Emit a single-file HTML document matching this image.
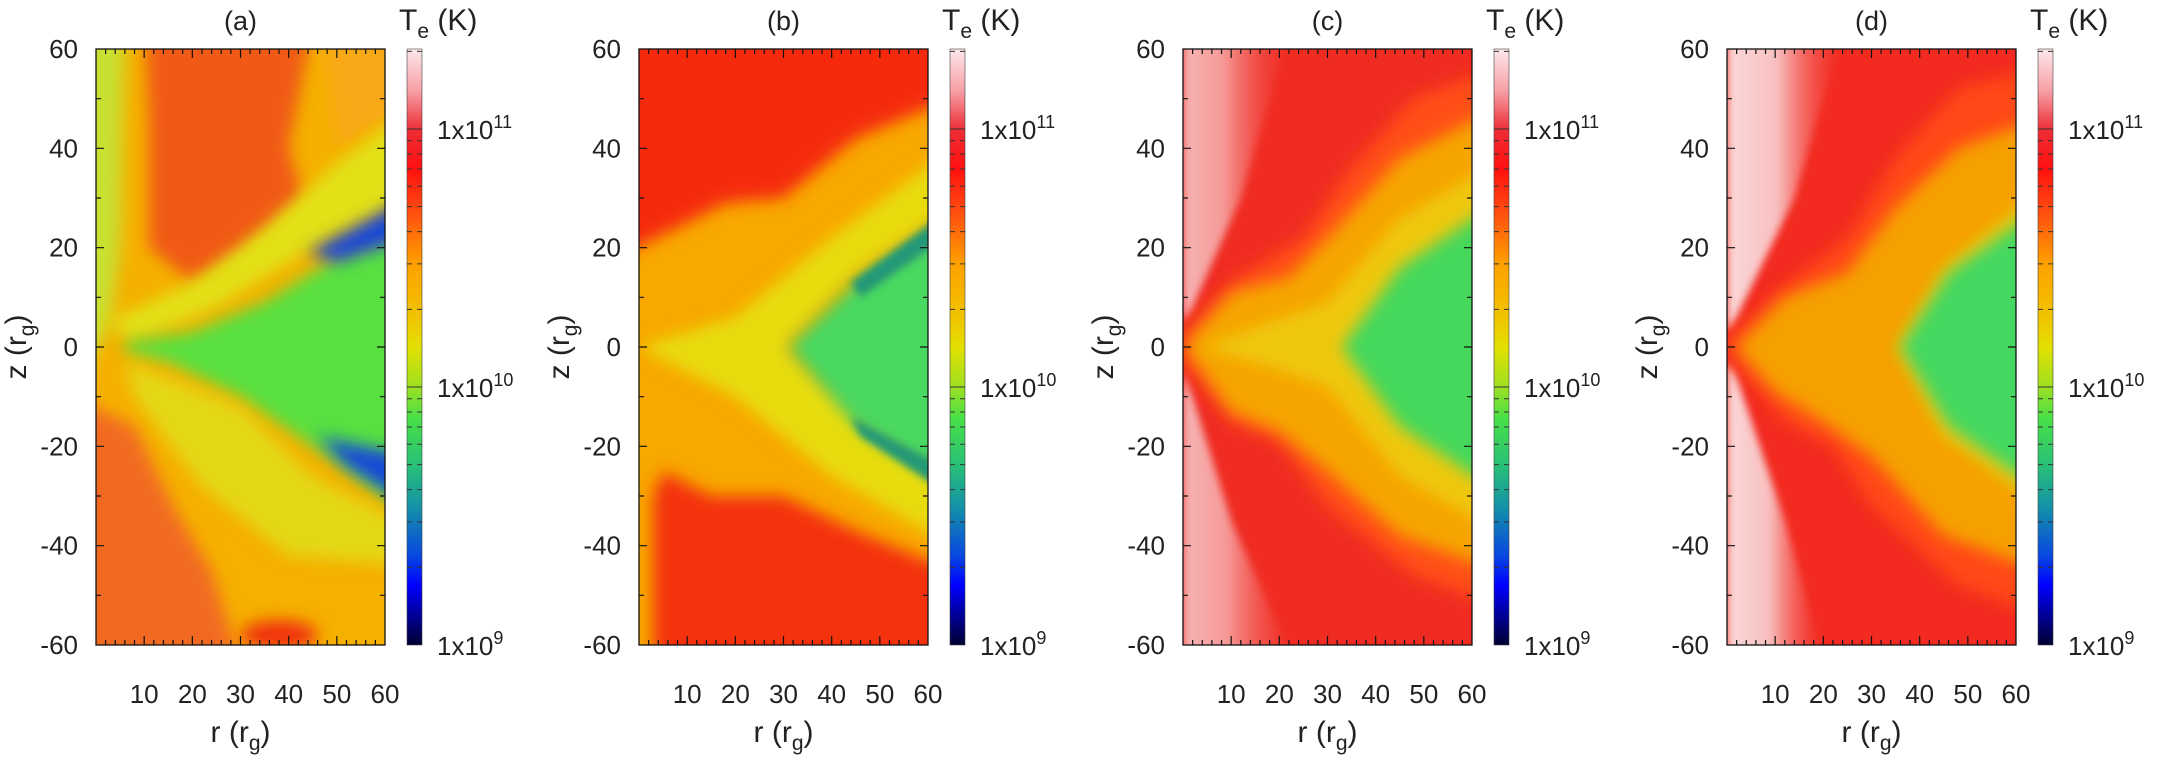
<!DOCTYPE html>
<html><head><meta charset="utf-8">
<style>
html,body{margin:0;padding:0;background:#fff;}
svg text{font-family:"Liberation Sans",Arial,sans-serif;fill:#222;}
</style></head>
<body>
<svg id="s" width="2163" height="761" viewBox="0 0 2163 761" xmlns="http://www.w3.org/2000/svg">
<defs>
<filter id="bl" filterUnits="userSpaceOnUse" x="-200" y="-200" width="700" height="1000"><feGaussianBlur stdDeviation="8"/></filter>
<filter id="bl2" filterUnits="userSpaceOnUse" x="-200" y="-200" width="700" height="1000"><feGaussianBlur stdDeviation="4"/></filter>
<linearGradient id="pkc" x1="0" y1="0" x2="1" y2="0">
<stop offset="0" stop-color="#f6b4b4"/><stop offset="0.35" stop-color="#f59a98"/><stop offset="1" stop-color="#f02c22" stop-opacity="0"/>
</linearGradient>
<linearGradient id="pkd" x1="0" y1="0" x2="1" y2="0">
<stop offset="0" stop-color="#fad8d8"/><stop offset="0.4" stop-color="#f8c0c0"/><stop offset="1" stop-color="#f22a20" stop-opacity="0"/>
</linearGradient>
<linearGradient id="cb" x1="0" y1="0" x2="0" y2="1">
<stop offset="0" stop-color="#fde8ea"/>
<stop offset="0.07" stop-color="#f7a0a6"/>
<stop offset="0.135" stop-color="#ee2e36"/>
<stop offset="0.2" stop-color="#ff1010"/>
<stop offset="0.27" stop-color="#ff4a10"/>
<stop offset="0.36" stop-color="#ffa000"/>
<stop offset="0.45" stop-color="#f0c400"/>
<stop offset="0.5" stop-color="#e4e000"/>
<stop offset="0.565" stop-color="#a0e020"/>
<stop offset="0.62" stop-color="#48e048"/>
<stop offset="0.7" stop-color="#28c078"/>
<stop offset="0.77" stop-color="#1490a8"/>
<stop offset="0.85" stop-color="#0848e0"/>
<stop offset="0.9" stop-color="#0000ff"/>
<stop offset="1" stop-color="#000030"/>
</linearGradient>
</defs>
<g id="root"></g>
</svg>
<script>
const W=289,H=596,TOP=49;
function P(pts){return pts.map(p=>(p[0]*W/60).toFixed(1)+","+((60-p[1])*H/120).toFixed(1)).join(" ");}
function poly(pts,fill,f){return `<polygon points="${P(pts)}" fill="${fill}"${f?` filter="url(#${f})"`:""}/>`;}
function ell(r,z,rx,rz,fill,f){return `<ellipse cx="${(r*W/60).toFixed(1)}" cy="${((60-z)*H/120).toFixed(1)}" rx="${rx*W/60}" ry="${rz*H/120}" fill="${fill}"${f?` filter="url(#${f})"`:""}/>`;}
const panels=[
{x:96,t:"(a)",base:"#f5b000",s:
 poly([[-5,70],[6,70],[5,20],[3,5],[-5,-10]],"#c8e030","bl")+
 poly([[10,70],[46,70],[40,40],[43,30],[30,18],[20,13],[11,20],[11,45]],"#f05a18","bl")+
 poly([[46,70],[65,70],[65,48],[50,40]],"#f8a818","bl")+
 poly([[2,5],[20,13],[35,24],[50,37],[65,48],[65,30],[45,20],[25,8],[8,1]],"#e2e012","bl")+
 poly([[6,1],[20,3],[35,9],[50,18],[65,24],[65,-34],[48,-22],[30,-10],[15,-3],[6,-1]],"#58e040","bl")+
 poly([[44,19],[65,30],[65,22],[50,17]],"#1848d8","bl")+
 poly([[46,-18],[65,-22],[65,-32],[52,-24]],"#1848d8","bl")+
 poly([[6,-3],[30,-12],[45,-26],[65,-36],[65,-44],[40,-42],[22,-28],[8,-10]],"#e4d812","bl")+
 poly([[-5,-10],[8,-16],[16,-32],[24,-45],[32,-70],[-5,-70]],"#f26a20","bl")+
 ell(38,-58,8,3,"#f03010","bl")
},
{x:639,t:"(b)",base:"#f8a800",s:
 poly([[-5,70],[65,70],[65,50],[45,42],[30,30],[18,29],[8,24],[-5,18]],"#f52a10","bl")+
 poly([[3,-70],[65,-70],[65,-45],[45,-37],[30,-30],[15,-30],[5,-25],[3,-30]],"#f43010","bl")+
 poly([[0,0],[20,6],[40,22],[65,40],[65,28],[45,15],[30,0],[45,-14],[65,-28],[65,-40],[40,-26],[20,-10]],"#e8dc10","bl")+
 poly([[31,0],[45,13],[65,26],[65,-28],[45,-16]],"#48d860","bl")+
 poly([[44,13],[65,28],[65,23],[46,10]],"#209878","bl2")+
 poly([[44,-14],[65,-25],[65,-30],[46,-18]],"#209878","bl2")
},
{x:1183,t:"(c)",base:"#f02c22",s:
 poly([[0,70],[24,70],[12,30],[2,8],[0,5]],"url(#pkc)","bl2")+
 poly([[0,-5],[2,-10],[10,-35],[26,-70],[0,-70]],"url(#pkc)","bl2")+
 poly([[0,2],[10,13],[25,22],[35,36],[48,50],[65,56],[65,-52],[48,-46],[30,-32],[20,-19],[10,-15],[0,-2]],"#ff5012","bl")+
 poly([[1,1],[10,11],[22,14],[32,24],[45,38],[65,48],[65,-45],[45,-38],[30,-25],[20,-17],[10,-13],[1,-1]],"#f6a404","bl")+
 poly([[4,0],[18,5],[30,9],[45,26],[65,37],[65,-37],[45,-26],[30,-8],[18,-4]],"#efc808","bl")+
 poly([[33,0],[45,16],[65,29],[65,-29],[45,-16]],"#44d85c","bl")
},
{x:1727,t:"(d)",base:"#f22a20",s:
 poly([[0,70],[26,70],[14,30],[2,6],[0,3]],"url(#pkd)","bl2")+
 poly([[0,-3],[2,-6],[12,-35],[22,-70],[0,-70]],"url(#pkd)","bl2")+
 poly([[0,1],[10,11],[25,22],[35,38],[48,52],[65,56],[65,-54],[48,-48],[30,-32],[22,-20],[12,-15],[0,-1]],"#ff4a12","bl")+
 poly([[2,0],[12,10],[25,15],[35,28],[48,40],[65,46],[65,-45],[45,-38],[30,-22],[20,-15],[10,-9]],"#f6a004","bl")+
 poly([[35,0],[45,16],[65,32],[65,-32],[45,-18]],"#eec808","bl")+
 poly([[36,0],[46,15],[65,28],[65,-29],[46,-16]],"#44d860","bl")
}];
let out="";
panels.forEach((p,i)=>{
 const X=p.x;
 out+=`<clipPath id="c${i}"><rect x="0" y="0" width="${W}" height="${H}"/></clipPath>`;
 out+=`<g transform="translate(${X},${TOP})"><g clip-path="url(#c${i})"><rect width="${W}" height="${H}" fill="${p.base}"/>${p.s}</g>`;
 out+=`<rect width="${W}" height="${H}" fill="none" stroke="#111" stroke-width="1.3"/>`;
 let t="";
 for(let r=2;r<60;r+=2){const x=r*W/60,L=(r%10==0)?9:5;t+=`M${x} ${H}v-${L}M${x} 0v${L}`;}
 for(let z=-50;z<=50;z+=10){const y=(60-z)*H/120,L=(z%20==0)?8:5;t+=`M0 ${y}h${L}M${W} ${y}h-${L}`;}
 out+=`<path d="${t}" stroke="#111" stroke-width="1.2"/>`;
 for(let z=-60;z<=60;z+=20){const y=(60-z)*H/120;out+=`<text x="-18" y="${y+9}" font-size="26" text-anchor="end">${z}</text>`;}
 for(let r=10;r<=60;r+=10){out+=`<text x="${r*W/60}" y="${H+58}" font-size="26" text-anchor="middle">${r}</text>`;}
 out+=`<text x="${W/2}" y="${H+97}" font-size="30" text-anchor="middle">r (r<tspan font-size="21" dy="8">g</tspan><tspan dy="-8">)</tspan></text>`;
 out+=`<text transform="translate(-70,${H/2}) rotate(-90)" font-size="30" text-anchor="middle">z (r<tspan font-size="21" dy="8">g</tspan><tspan dy="-8">)</tspan></text>`;
 out+=`<text x="${W/2}" y="-19" font-size="27" text-anchor="middle">${p.t}</text>`;
 const cx=W+22;
 out+=`<rect x="${cx}" y="0" width="15" height="${H}" fill="url(#cb)" stroke="#444" stroke-width="0.6"/>`;
 let ct="";
 const y11=80,y10=338,dec=258;
 ct+=`M${cx} ${y11}h15M${cx} ${y10}h15`;
 for(let k=2;k<=9;k++){const d=Math.log10(k)*dec;ct+=`M${cx} ${y10-d}h5M${cx+15} ${y10-d}h-5M${cx} ${H-d}h5M${cx+15} ${H-d}h-5`;if(y11-d>0)ct+=`M${cx} ${y11-d}h5M${cx+15} ${y11-d}h-5`;}
 out+=`<path d="${ct}" stroke="#333" stroke-width="1"/>`;
 const lab=(y,e)=>`<text x="${cx+30}" y="${y+10}" font-size="26">1x10<tspan font-size="18" dy="-11">${e}</tspan></text>`;
 out+=lab(y11,"11")+lab(y10,"10")+lab(H,"9");
 out+=`<text x="${cx-8}" y="-19" font-size="30">T<tspan font-size="21" dy="8">e</tspan><tspan dy="-8"> (K)</tspan></text>`;
 out+=`</g>`;
});
document.getElementById("root").innerHTML=out;
</script>
</body></html>
